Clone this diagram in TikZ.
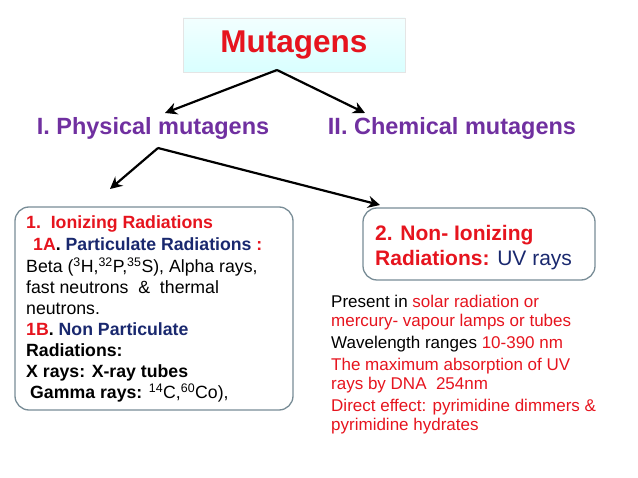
\documentclass[tikz,border=0pt]{standalone}
\usepackage{fontspec}
\setmainfont{Liberation Sans}
\usetikzlibrary{arrows.meta}
\definecolor{myred}{RGB}{230,20,30}
\definecolor{mypurple}{RGB}{112,48,160}
\definecolor{mynavy}{RGB}{25,40,110}
\definecolor{myborder}{RGB}{120,140,150}
\tikzset{
 arr/.style={line width=2.2pt,-{Stealth[length=12pt,width=12pt]}},
 rbox/.style={draw=myborder,line width=1.3pt,rounded corners=14pt},
 ln/.style={anchor=base west,inner sep=0pt},
}
\begin{document}
\begin{tikzpicture}[x=1pt,y=-1pt]
\useasboundingbox (0,0) rectangle (638,478);
\node[draw=white!80!gray,top color=white!95!cyan,bottom color=white!85!cyan,minimum width=222pt,minimum height=54pt,inner sep=0pt] (m) at (294,45) {};
\node[text=myred,font=\fontsize{31.5}{36}\selectfont\bfseries] (mt) at (294,45) {Mutagens};
\coordinate (mb) at (277,70);
\node[text=mypurple,font=\fontsize{23.5}{28}\selectfont\bfseries] (p) at (153,128) {I. Physical mutagens};
\node[text=mypurple,font=\fontsize{23.5}{28}\selectfont\bfseries] (c) at (452,128) {II. Chemical mutagens};
\draw[arr] (mb) -- (165,113);
\draw[arr] (mb) -- (365,113);
\coordinate (pb) at (158,148);
\draw[rbox] (15,207) rectangle (293,410);
\node (lb) at (154,308) {};
\draw[rbox] (363,208) rectangle (595,280);
\node (rb) at (479,244) {};
\draw[arr] (pb) -- (110,189);
\draw[arr] (pb) -- (380,205);
\begin{scope}[font=\fontsize{17.7}{21}\selectfont]
\node[ln,text=myred,font=\fontsize{17.7}{21}\selectfont\bfseries] (l1) at (26,229) {1.\ \ Ionizing Radiations};
\node[ln,font=\fontsize{17.7}{21}\selectfont\bfseries] (l2) at (33,251) {\textcolor{myred}{1A}.\ \textcolor{mynavy}{Particulate Radiations} \textcolor{myred}{:}};
\node[ln] (l3) at (26,273) {Beta (\textsuperscript{3}H,\textsuperscript{32}P,\textsuperscript{35}S), Alpha rays,};
\node[ln] (l4) at (26,294) {fast neutrons\ \ \&\ \ thermal};
\node[ln] (l5) at (26,315) {neutrons.};
\node[ln,font=\fontsize{17.7}{21}\selectfont\bfseries] (l6) at (26,336) {\textcolor{myred}{1B}.\ \textcolor{mynavy}{Non Particulate}};
\node[ln,font=\fontsize{17.7}{21}\selectfont\bfseries] (l7) at (26,357) {Radiations:};
\node[ln,font=\fontsize{17.7}{21}\selectfont\bfseries] (l8) at (26,378) {X rays: X-ray tubes};
\node[ln] (l9) at (30,399) {\textbf{Gamma rays:} \textsuperscript{14}C,\textsuperscript{60}Co),};
\end{scope}
\node[ln,text=myred,font=\fontsize{21}{25}\selectfont\bfseries] (r1) at (375,241) {2. Non- Ionizing};
\node[ln,font=\fontsize{21}{25}\selectfont] (r2) at (375,266) {\textcolor{myred}{\textbf{Radiations:}} \textcolor{mynavy}{UV rays}};
\begin{scope}[font=\fontsize{17}{20}\selectfont]
\node[ln] (t1) at (331,308) {Present in \textcolor{myred}{solar radiation or}};
\node[ln,text=myred] (t2) at (331,327) {mercury- vapour lamps or tubes};
\node[ln] (t3) at (331,349) {Wavelength ranges \textcolor{myred}{10-390 nm}};
\node[ln,text=myred] (t4) at (331,371) {The maximum absorption of UV};
\node[ln,text=myred] (t5) at (331,390) {rays by DNA\ \ 254nm};
\node[ln,text=myred] (t6) at (331,412) {Direct effect: pyrimidine dimmers \&};
\node[ln,text=myred] (t7) at (331,431) {pyrimidine hydrates};
\end{scope}
\end{tikzpicture}
\end{document}
